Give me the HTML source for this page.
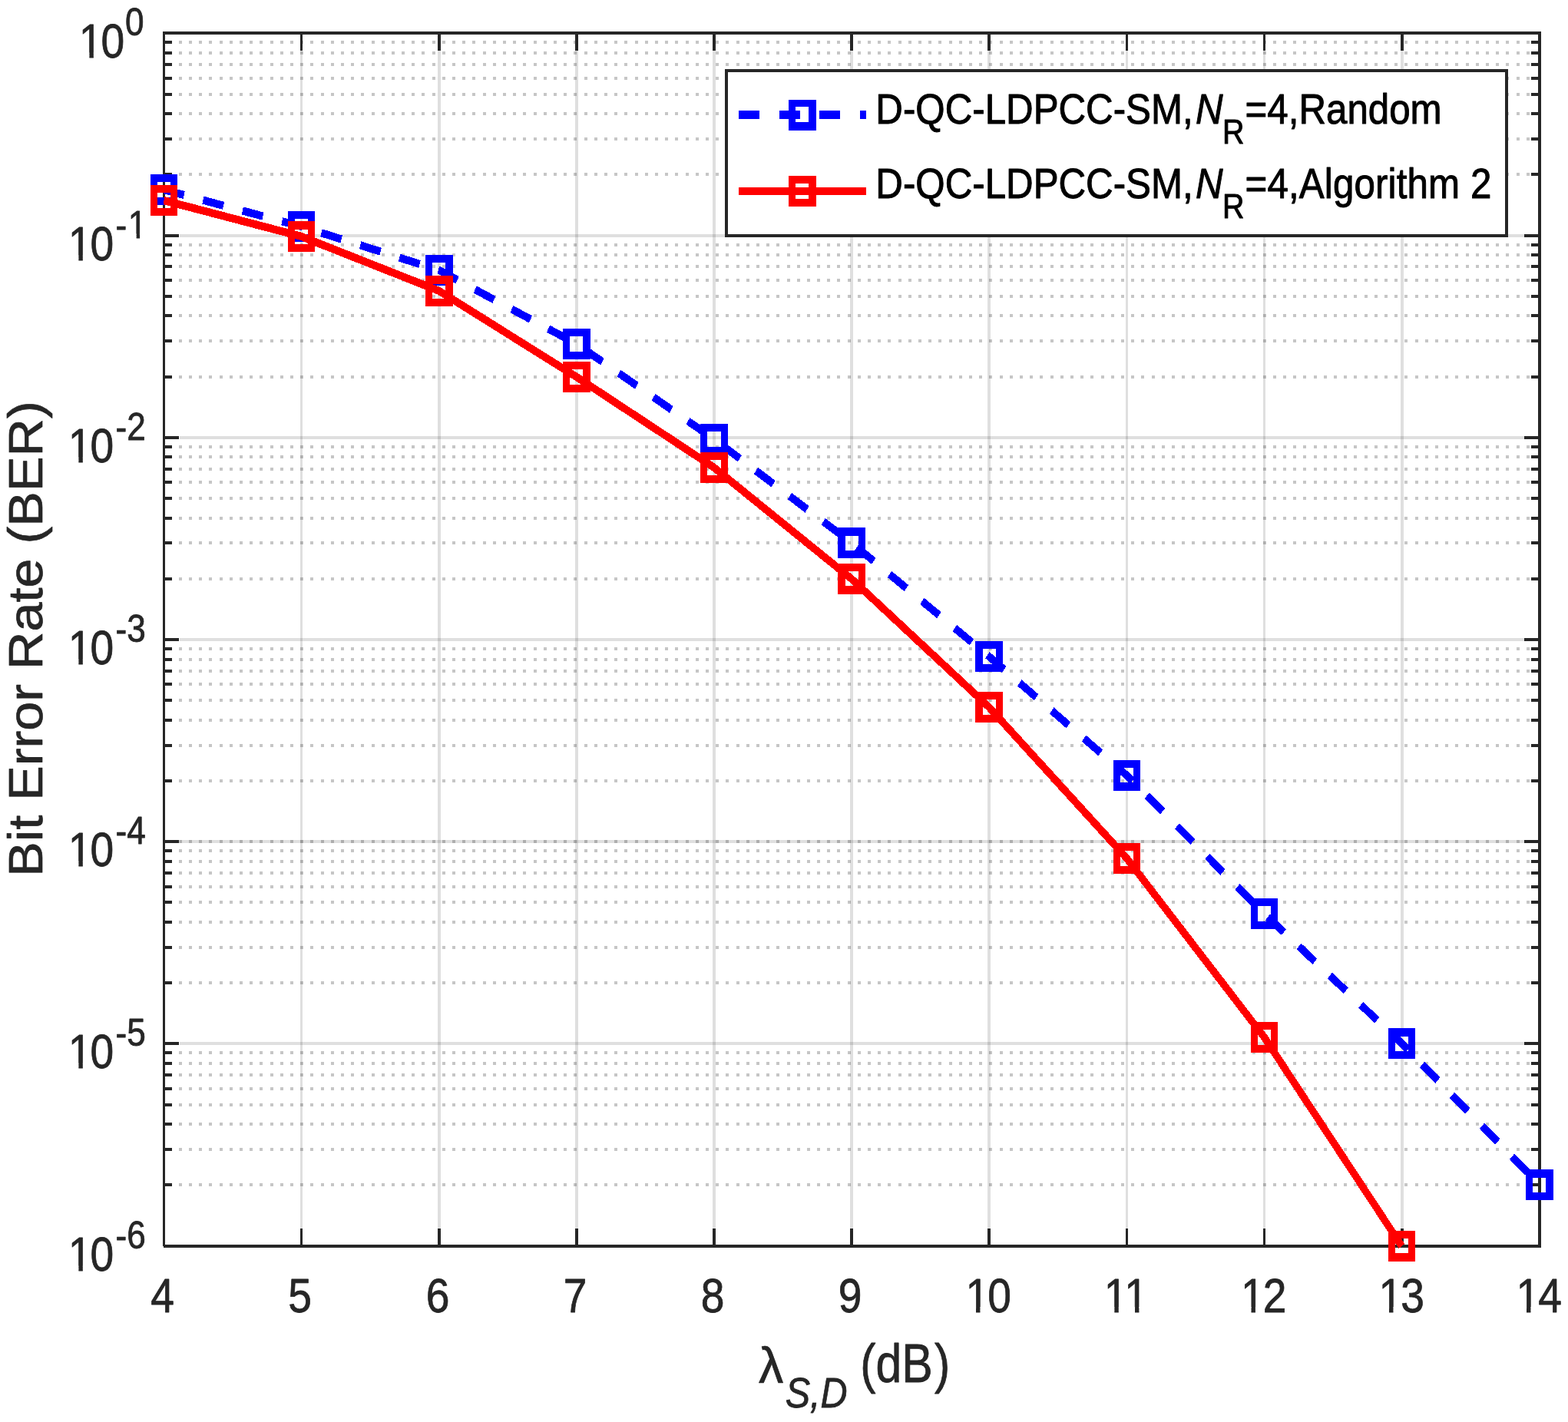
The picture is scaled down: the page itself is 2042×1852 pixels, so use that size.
<!DOCTYPE html>
<html lang="en"><head><meta charset="utf-8"><title>BER</title>
<style>html,body{margin:0;padding:0;background:#fff;}body{width:2042px;height:1852px;overflow:hidden;}svg{display:block;}text{font-family:"Liberation Sans",sans-serif;stroke-linejoin:round;}</style>
</head><body>
<svg width="2042" height="1852" viewBox="0 0 2042 1852" role="img" aria-label="Bit Error Rate (BER) versus lambda S,D (dB)">
<rect x="0" y="0" width="2042" height="1852" fill="#ffffff"/>
<g id="grid" shape-rendering="crispEdges">
<g stroke="#1a1a1a" stroke-opacity="0.25" stroke-width="4" stroke-dasharray="4 9.195" fill="none">
<line x1="219.61" y1="55" x2="1994" y2="55"/>
<line x1="219.61" y1="69" x2="1994" y2="69"/>
<line x1="219.61" y1="84" x2="1994" y2="84"/>
<line x1="219.61" y1="102" x2="1994" y2="102"/>
<line x1="219.61" y1="123" x2="1994" y2="123"/>
<line x1="219.61" y1="148" x2="1994" y2="148"/>
<line x1="219.61" y1="181" x2="1994" y2="181"/>
<line x1="219.61" y1="227" x2="1994" y2="227"/>
<line x1="219.61" y1="319" x2="1994" y2="319"/>
<line x1="219.61" y1="332" x2="1994" y2="332"/>
<line x1="219.61" y1="347" x2="1994" y2="347"/>
<line x1="219.61" y1="365" x2="1994" y2="365"/>
<line x1="219.61" y1="386" x2="1994" y2="386"/>
<line x1="219.61" y1="411" x2="1994" y2="411"/>
<line x1="219.61" y1="444" x2="1994" y2="444"/>
<line x1="219.61" y1="491" x2="1994" y2="491"/>
<line x1="219.61" y1="582" x2="1994" y2="582"/>
<line x1="219.61" y1="595" x2="1994" y2="595"/>
<line x1="219.61" y1="611" x2="1994" y2="611"/>
<line x1="219.61" y1="628" x2="1994" y2="628"/>
<line x1="219.61" y1="649" x2="1994" y2="649"/>
<line x1="219.61" y1="675" x2="1994" y2="675"/>
<line x1="219.61" y1="707" x2="1994" y2="707"/>
<line x1="219.61" y1="754" x2="1994" y2="754"/>
<line x1="219.61" y1="845" x2="1994" y2="845"/>
<line x1="219.61" y1="859" x2="1994" y2="859"/>
<line x1="219.61" y1="874" x2="1994" y2="874"/>
<line x1="219.61" y1="891" x2="1994" y2="891"/>
<line x1="219.61" y1="912" x2="1994" y2="912"/>
<line x1="219.61" y1="938" x2="1994" y2="938"/>
<line x1="219.61" y1="971" x2="1994" y2="971"/>
<line x1="219.61" y1="1017" x2="1994" y2="1017"/>
<line x1="219.61" y1="1108" x2="1994" y2="1108"/>
<line x1="219.61" y1="1122" x2="1994" y2="1122"/>
<line x1="219.61" y1="1137" x2="1994" y2="1137"/>
<line x1="219.61" y1="1155" x2="1994" y2="1155"/>
<line x1="219.61" y1="1175" x2="1994" y2="1175"/>
<line x1="219.61" y1="1201" x2="1994" y2="1201"/>
<line x1="219.61" y1="1234" x2="1994" y2="1234"/>
<line x1="219.61" y1="1280" x2="1994" y2="1280"/>
<line x1="219.61" y1="1371" x2="1994" y2="1371"/>
<line x1="219.61" y1="1385" x2="1994" y2="1385"/>
<line x1="219.61" y1="1400" x2="1994" y2="1400"/>
<line x1="219.61" y1="1418" x2="1994" y2="1418"/>
<line x1="219.61" y1="1439" x2="1994" y2="1439"/>
<line x1="219.61" y1="1464" x2="1994" y2="1464"/>
<line x1="219.61" y1="1497" x2="1994" y2="1497"/>
<line x1="219.61" y1="1543" x2="1994" y2="1543"/>
<line x1="219.61" y1="1096" x2="1994" y2="1096"/>
</g>
<g stroke="#262626" stroke-opacity="0.15" stroke-width="4" fill="none">
<line x1="392.5" y1="66" x2="392.5" y2="1600" stroke-width="3"/>
<line x1="572" y1="66" x2="572" y2="1600"/>
<line x1="751" y1="66" x2="751" y2="1600"/>
<line x1="930" y1="66" x2="930" y2="1600"/>
<line x1="1109" y1="66" x2="1109" y2="1600"/>
<line x1="1288" y1="66" x2="1288" y2="1600"/>
<line x1="1467.5" y1="66" x2="1467.5" y2="1600" stroke-width="3"/>
<line x1="1646.5" y1="66" x2="1646.5" y2="1600" stroke-width="3"/>
<line x1="1826" y1="66" x2="1826" y2="1600"/>
<line x1="234" y1="307" x2="1985" y2="307"/>
<line x1="234" y1="570" x2="1985" y2="570"/>
<line x1="234" y1="833" x2="1985" y2="833"/>
<line x1="234" y1="1096" x2="1985" y2="1096"/>
<line x1="234" y1="1359" x2="1985" y2="1359"/>
</g>
</g>
<g id="axes" stroke="#262626" fill="none" shape-rendering="crispEdges">
<line x1="212" y1="43" x2="2007" y2="43" stroke-width="4"/>
<line x1="213" y1="1623" x2="2007" y2="1623" stroke-width="4"/>
<line x1="213.5" y1="41" x2="213.5" y2="1623" stroke-width="3"/>
<line x1="2005" y1="41" x2="2005" y2="1625" stroke-width="4"/>
<g stroke-width="4">
<line x1="392.5" y1="43" x2="392.5" y2="66" stroke-width="3"/>
<line x1="392.5" y1="1600" x2="392.5" y2="1623" stroke-width="3"/>
<line x1="572" y1="43" x2="572" y2="66"/>
<line x1="572" y1="1600" x2="572" y2="1623"/>
<line x1="751" y1="43" x2="751" y2="66"/>
<line x1="751" y1="1600" x2="751" y2="1623"/>
<line x1="930" y1="43" x2="930" y2="66"/>
<line x1="930" y1="1600" x2="930" y2="1623"/>
<line x1="1109" y1="43" x2="1109" y2="66"/>
<line x1="1109" y1="1600" x2="1109" y2="1623"/>
<line x1="1288" y1="43" x2="1288" y2="66"/>
<line x1="1288" y1="1600" x2="1288" y2="1623"/>
<line x1="1467.5" y1="43" x2="1467.5" y2="66" stroke-width="3"/>
<line x1="1467.5" y1="1600" x2="1467.5" y2="1623" stroke-width="3"/>
<line x1="1646.5" y1="43" x2="1646.5" y2="66" stroke-width="3"/>
<line x1="1646.5" y1="1600" x2="1646.5" y2="1623" stroke-width="3"/>
<line x1="1826" y1="43" x2="1826" y2="66"/>
<line x1="1826" y1="1600" x2="1826" y2="1623"/>
<line x1="213.5" y1="307" x2="233" y2="307"/>
<line x1="1985" y1="307" x2="2005" y2="307"/>
<line x1="213.5" y1="570" x2="233" y2="570"/>
<line x1="1985" y1="570" x2="2005" y2="570"/>
<line x1="213.5" y1="833" x2="233" y2="833"/>
<line x1="1985" y1="833" x2="2005" y2="833"/>
<line x1="213.5" y1="1096" x2="233" y2="1096"/>
<line x1="1985" y1="1096" x2="2005" y2="1096"/>
<line x1="213.5" y1="1359" x2="233" y2="1359"/>
<line x1="1985" y1="1359" x2="2005" y2="1359"/>
<line x1="213.5" y1="55" x2="224" y2="55"/>
<line x1="1994" y1="55" x2="2005" y2="55"/>
<line x1="213.5" y1="69" x2="224" y2="69"/>
<line x1="1994" y1="69" x2="2005" y2="69"/>
<line x1="213.5" y1="84" x2="224" y2="84"/>
<line x1="1994" y1="84" x2="2005" y2="84"/>
<line x1="213.5" y1="102" x2="224" y2="102"/>
<line x1="1994" y1="102" x2="2005" y2="102"/>
<line x1="213.5" y1="123" x2="224" y2="123"/>
<line x1="1994" y1="123" x2="2005" y2="123"/>
<line x1="213.5" y1="148" x2="224" y2="148"/>
<line x1="1994" y1="148" x2="2005" y2="148"/>
<line x1="213.5" y1="181" x2="224" y2="181"/>
<line x1="1994" y1="181" x2="2005" y2="181"/>
<line x1="213.5" y1="227" x2="224" y2="227"/>
<line x1="1994" y1="227" x2="2005" y2="227"/>
<line x1="213.5" y1="319" x2="224" y2="319"/>
<line x1="1994" y1="319" x2="2005" y2="319"/>
<line x1="213.5" y1="332" x2="224" y2="332"/>
<line x1="1994" y1="332" x2="2005" y2="332"/>
<line x1="213.5" y1="347" x2="224" y2="347"/>
<line x1="1994" y1="347" x2="2005" y2="347"/>
<line x1="213.5" y1="365" x2="224" y2="365"/>
<line x1="1994" y1="365" x2="2005" y2="365"/>
<line x1="213.5" y1="386" x2="224" y2="386"/>
<line x1="1994" y1="386" x2="2005" y2="386"/>
<line x1="213.5" y1="411" x2="224" y2="411"/>
<line x1="1994" y1="411" x2="2005" y2="411"/>
<line x1="213.5" y1="444" x2="224" y2="444"/>
<line x1="1994" y1="444" x2="2005" y2="444"/>
<line x1="213.5" y1="491" x2="224" y2="491"/>
<line x1="1994" y1="491" x2="2005" y2="491"/>
<line x1="213.5" y1="582" x2="224" y2="582"/>
<line x1="1994" y1="582" x2="2005" y2="582"/>
<line x1="213.5" y1="595" x2="224" y2="595"/>
<line x1="1994" y1="595" x2="2005" y2="595"/>
<line x1="213.5" y1="611" x2="224" y2="611"/>
<line x1="1994" y1="611" x2="2005" y2="611"/>
<line x1="213.5" y1="628" x2="224" y2="628"/>
<line x1="1994" y1="628" x2="2005" y2="628"/>
<line x1="213.5" y1="649" x2="224" y2="649"/>
<line x1="1994" y1="649" x2="2005" y2="649"/>
<line x1="213.5" y1="675" x2="224" y2="675"/>
<line x1="1994" y1="675" x2="2005" y2="675"/>
<line x1="213.5" y1="707" x2="224" y2="707"/>
<line x1="1994" y1="707" x2="2005" y2="707"/>
<line x1="213.5" y1="754" x2="224" y2="754"/>
<line x1="1994" y1="754" x2="2005" y2="754"/>
<line x1="213.5" y1="845" x2="224" y2="845"/>
<line x1="1994" y1="845" x2="2005" y2="845"/>
<line x1="213.5" y1="859" x2="224" y2="859"/>
<line x1="1994" y1="859" x2="2005" y2="859"/>
<line x1="213.5" y1="874" x2="224" y2="874"/>
<line x1="1994" y1="874" x2="2005" y2="874"/>
<line x1="213.5" y1="891" x2="224" y2="891"/>
<line x1="1994" y1="891" x2="2005" y2="891"/>
<line x1="213.5" y1="912" x2="224" y2="912"/>
<line x1="1994" y1="912" x2="2005" y2="912"/>
<line x1="213.5" y1="938" x2="224" y2="938"/>
<line x1="1994" y1="938" x2="2005" y2="938"/>
<line x1="213.5" y1="971" x2="224" y2="971"/>
<line x1="1994" y1="971" x2="2005" y2="971"/>
<line x1="213.5" y1="1017" x2="224" y2="1017"/>
<line x1="1994" y1="1017" x2="2005" y2="1017"/>
<line x1="213.5" y1="1108" x2="224" y2="1108"/>
<line x1="1994" y1="1108" x2="2005" y2="1108"/>
<line x1="213.5" y1="1122" x2="224" y2="1122"/>
<line x1="1994" y1="1122" x2="2005" y2="1122"/>
<line x1="213.5" y1="1137" x2="224" y2="1137"/>
<line x1="1994" y1="1137" x2="2005" y2="1137"/>
<line x1="213.5" y1="1155" x2="224" y2="1155"/>
<line x1="1994" y1="1155" x2="2005" y2="1155"/>
<line x1="213.5" y1="1175" x2="224" y2="1175"/>
<line x1="1994" y1="1175" x2="2005" y2="1175"/>
<line x1="213.5" y1="1201" x2="224" y2="1201"/>
<line x1="1994" y1="1201" x2="2005" y2="1201"/>
<line x1="213.5" y1="1234" x2="224" y2="1234"/>
<line x1="1994" y1="1234" x2="2005" y2="1234"/>
<line x1="213.5" y1="1280" x2="224" y2="1280"/>
<line x1="1994" y1="1280" x2="2005" y2="1280"/>
<line x1="213.5" y1="1371" x2="224" y2="1371"/>
<line x1="1994" y1="1371" x2="2005" y2="1371"/>
<line x1="213.5" y1="1385" x2="224" y2="1385"/>
<line x1="1994" y1="1385" x2="2005" y2="1385"/>
<line x1="213.5" y1="1400" x2="224" y2="1400"/>
<line x1="1994" y1="1400" x2="2005" y2="1400"/>
<line x1="213.5" y1="1418" x2="224" y2="1418"/>
<line x1="1994" y1="1418" x2="2005" y2="1418"/>
<line x1="213.5" y1="1439" x2="224" y2="1439"/>
<line x1="1994" y1="1439" x2="2005" y2="1439"/>
<line x1="213.5" y1="1464" x2="224" y2="1464"/>
<line x1="1994" y1="1464" x2="2005" y2="1464"/>
<line x1="213.5" y1="1497" x2="224" y2="1497"/>
<line x1="1994" y1="1497" x2="2005" y2="1497"/>
<line x1="213.5" y1="1543" x2="224" y2="1543"/>
<line x1="1994" y1="1543" x2="2005" y2="1543"/>
</g></g>
<g id="series-random">
<g transform="scale(1 1.12)"><polyline points="213.5,220.54 392.5,263.39 572,314.29 751,400 930,510.71 1109,631.25 1288,763.39 1467.5,901.79 1646.5,1062.5 1825.5,1213.39 2005,1377.68" fill="none" stroke="#0000ff" stroke-width="9.15" stroke-dasharray="27.4 25.46" stroke-dashoffset="0.5" stroke-linejoin="miter" shape-rendering="crispEdges"/></g>
<path d="M196 227H231V267H196ZM205 237V257H222V237ZM375 275H410V315H375ZM384 285V305H401V285ZM554 332H590V372H554ZM563 342V362H580V342ZM733 428H769V468H733ZM742 438V458H759V438ZM912 552H948V592H912ZM921 562V582H939V562ZM1091 687H1127V727H1091ZM1101 698V717H1118V698ZM1270 835H1306V875H1270ZM1280 845V865H1297V845ZM1450 990H1485V1030H1450ZM1459 1000V1019H1476V1000ZM1629 1170H1664V1210H1629ZM1638 1180V1200H1655V1180ZM1808 1339H1843V1379H1808ZM1817 1350V1369H1834V1350ZM1987 1523H2023V1563H1987ZM1996 1534V1553H2013V1534Z" fill="#0000ff" fill-rule="evenodd" shape-rendering="crispEdges"/>
</g>
<g id="series-algorithm2">
<g transform="scale(1 1.12)"><polyline points="213.5,233.04 392.5,275 572,338.39 751,438.39 930,543.75 1109,673.21 1288,822.32 1467.5,998.21 1646.5,1206.25 1825.5,1449.11" fill="none" stroke="#ff0000" stroke-width="9.15" stroke-linejoin="miter" shape-rendering="crispEdges"/></g>
<path d="M196 241H231V281H196ZM205 251V271H222V251ZM375 288H410V328H375ZM384 299V318H401V299ZM554 359H590V399H554ZM563 370V389H580V370ZM733 471H769V511H733ZM742 481V501H759V481ZM912 589H948V629H912ZM921 599V619H939V599ZM1091 734H1127V774H1091ZM1101 744V763H1118V744ZM1270 901H1306V941H1270ZM1280 911V931H1297V911ZM1450 1098H1485V1138H1450ZM1459 1108V1128H1476V1108ZM1629 1331H1664V1371H1629ZM1638 1341V1361H1655V1341ZM1808 1603H1843V1643H1808ZM1817 1613V1632H1834V1613Z" fill="#ff0000" fill-rule="evenodd" shape-rendering="crispEdges"/>
</g>
<g id="legend">
<rect x="946" y="92" width="1016" height="215" fill="#ffffff" stroke="#262626" stroke-width="4" shape-rendering="crispEdges"/>
<g shape-rendering="crispEdges">
<line x1="962" y1="149.5" x2="1128" y2="149.5" stroke="#0000ff" stroke-width="11" stroke-dasharray="27 25.6"/>
<path d="M1027 130H1063V170H1027ZM1036 139V159H1053V139Z" fill="#0000ff" fill-rule="evenodd"/>
<line x1="962" y1="249" x2="1128" y2="249" stroke="#ff0000" stroke-width="10"/>
<path d="M1027 229H1063V269H1027ZM1036 239V259H1053V239Z" fill="#ff0000" fill-rule="evenodd"/>
</g>
<text transform="translate(0 160.5) scale(1 1.12)" fill="#000000" stroke="#000000" stroke-width="0.9" font-size="49.3"><tspan x="1140.3">D-QC-LDPCC-SM,</tspan><tspan x="1557" font-style="italic">N</tspan><tspan x="1592" dy="24.02" font-size="39.44">R</tspan><tspan x="1621.5" dy="-24.02">=4,Random</tspan></text>
<text transform="translate(0 257.5) scale(1 1.12)" fill="#000000" stroke="#000000" stroke-width="0.9" font-size="49.3"><tspan x="1140.3">D-QC-LDPCC-SM,</tspan><tspan x="1557" font-style="italic">N</tspan><tspan x="1592" dy="24.02" font-size="39.44">R</tspan><tspan x="1621.5" dy="-24.02" letter-spacing="0.14">=4,Algorithm 2</tspan></text>
</g>
<defs>
<clipPath id="c1"><path clip-rule="evenodd" d="M-20 -90H260V40H-20ZM4.91 -5.87H15.53V2H4.91ZM20.91 -5.87H31.1V2H20.91Z"/></clipPath>
<clipPath id="c11"><path clip-rule="evenodd" d="M-20 -90H260V40H-20ZM4.91 -5.87H15.53V2H4.91ZM20.91 -5.87H31.1V2H20.91ZM31.52 -5.87H42.15V2H31.52ZM47.52 -5.87H57.72V2H47.52Z"/></clipPath>
<clipPath id="cy0"><path clip-rule="evenodd" d="M-20 -90H260V40H-20ZM105.81 -5.87H116.43V2H105.81ZM121.81 -5.87H132V2H121.81Z"/></clipPath>
<clipPath id="cy"><path clip-rule="evenodd" d="M-20 -90H260V40H-20ZM91.81 -5.87H102.43V2H91.81ZM107.81 -5.87H118V2H107.81Z"/></clipPath>
<clipPath id="cy1"><path clip-rule="evenodd" d="M-20 -90H260V40H-20ZM91.81 -5.87H102.43V2H91.81ZM107.81 -5.87H118V2H107.81ZM168.99 -30.27H177.68V-23.22H168.99ZM182.08 -30.27H190.43V-23.22H182.08Z"/></clipPath>
</defs>
<g id="ticklabels" fill="#262626" stroke="#262626" stroke-width="0.7">
<text transform="translate(196.35 1709) scale(1 1.15)" font-size="55.2">4</text>
<text transform="translate(375.35 1709) scale(1 1.15)" font-size="55.2">5</text>
<text transform="translate(554.85 1709) scale(1 1.15)" font-size="55.2">6</text>
<text transform="translate(733.85 1709) scale(1 1.15)" font-size="55.2">7</text>
<text transform="translate(912.85 1709) scale(1 1.15)" font-size="55.2">8</text>
<text transform="translate(1091.85 1709) scale(1 1.15)" font-size="55.2">9</text>
<text transform="translate(1255.5 1709) scale(1 1.15)" font-size="55.2" clip-path="url(#c1)"><tspan dx="1.9">1</tspan><tspan dx="-1.9">0</tspan></text>
<text transform="translate(1435.84 1709) scale(1 1.15)" font-size="55.2" clip-path="url(#c11)"><tspan dx="1.9">1</tspan><tspan dx="-4.08">1</tspan></text>
<text transform="translate(1614 1709) scale(1 1.15)" font-size="55.2" clip-path="url(#c1)"><tspan dx="1.9">1</tspan><tspan dx="-1.9">2</tspan></text>
<text transform="translate(1793.5 1709) scale(1 1.15)" font-size="55.2" clip-path="url(#c1)"><tspan dx="1.9">1</tspan><tspan dx="-1.9">3</tspan></text>
<text transform="translate(1972.5 1709) scale(1 1.15)" font-size="55.2" clip-path="url(#c1)"><tspan dx="1.9">1</tspan><tspan dx="-1.9">4</tspan></text>
<text transform="translate(0 75.3) scale(1 1.15)" font-size="55.2" clip-path="url(#cy0)"><tspan x="102.8">1</tspan><tspan dx="-1.9">0</tspan><tspan x="163" dy="-25.22" font-size="44.16">0</tspan></text>
<text transform="translate(0 339.3) scale(1 1.15)" font-size="55.2" clip-path="url(#cy1)"><tspan x="88.8">1</tspan><tspan dx="-1.9">0</tspan><tspan x="150.6" dy="-25.22" font-size="44.16">-</tspan><tspan dx="1.52" font-size="44.16">1</tspan></text>
<text transform="translate(0 602.3) scale(1 1.15)" font-size="55.2" clip-path="url(#cy)"><tspan x="88.8">1</tspan><tspan dx="-1.9">0</tspan><tspan x="150.6" dy="-25.22" font-size="44.16">-2</tspan></text>
<text transform="translate(0 865.3) scale(1 1.15)" font-size="55.2" clip-path="url(#cy)"><tspan x="88.8">1</tspan><tspan dx="-1.9">0</tspan><tspan x="150.6" dy="-25.22" font-size="44.16">-3</tspan></text>
<text transform="translate(0 1128.3) scale(1 1.15)" font-size="55.2" clip-path="url(#cy)"><tspan x="88.8">1</tspan><tspan dx="-1.9">0</tspan><tspan x="150.6" dy="-25.22" font-size="44.16">-4</tspan></text>
<text transform="translate(0 1391.3) scale(1 1.15)" font-size="55.2" clip-path="url(#cy)"><tspan x="88.8">1</tspan><tspan dx="-1.9">0</tspan><tspan x="150.6" dy="-25.22" font-size="44.16">-5</tspan></text>
<text transform="translate(0 1655.3) scale(1 1.15)" font-size="55.2" clip-path="url(#cy)"><tspan x="88.8">1</tspan><tspan dx="-1.9">0</tspan><tspan x="150.6" dy="-25.22" font-size="44.16">-6</tspan></text>
</g>
<g id="xlabel" fill="#262626" stroke="#262626" stroke-width="0.7">
<text transform="translate(988.1 1801.3) scale(1 1.04)" font-size="64.4">λ</text>
<text transform="translate(0 1800) scale(1 1.15)" font-size="60.7"><tspan x="1022.7" dy="28.7" font-size="48.56" font-style="italic">S,D</tspan><tspan x="1103.43" dy="-28.7"> (dB</tspan><tspan dx="2.2">)</tspan></text>
</g>
<text id="ylabel" fill="#262626" stroke="#262626" stroke-width="0.7" transform="translate(54.8 832) rotate(-90) scale(1.0925 1)" text-anchor="middle" font-size="62.6">Bit Error Rate (BER)</text>
</svg>
</body></html>
